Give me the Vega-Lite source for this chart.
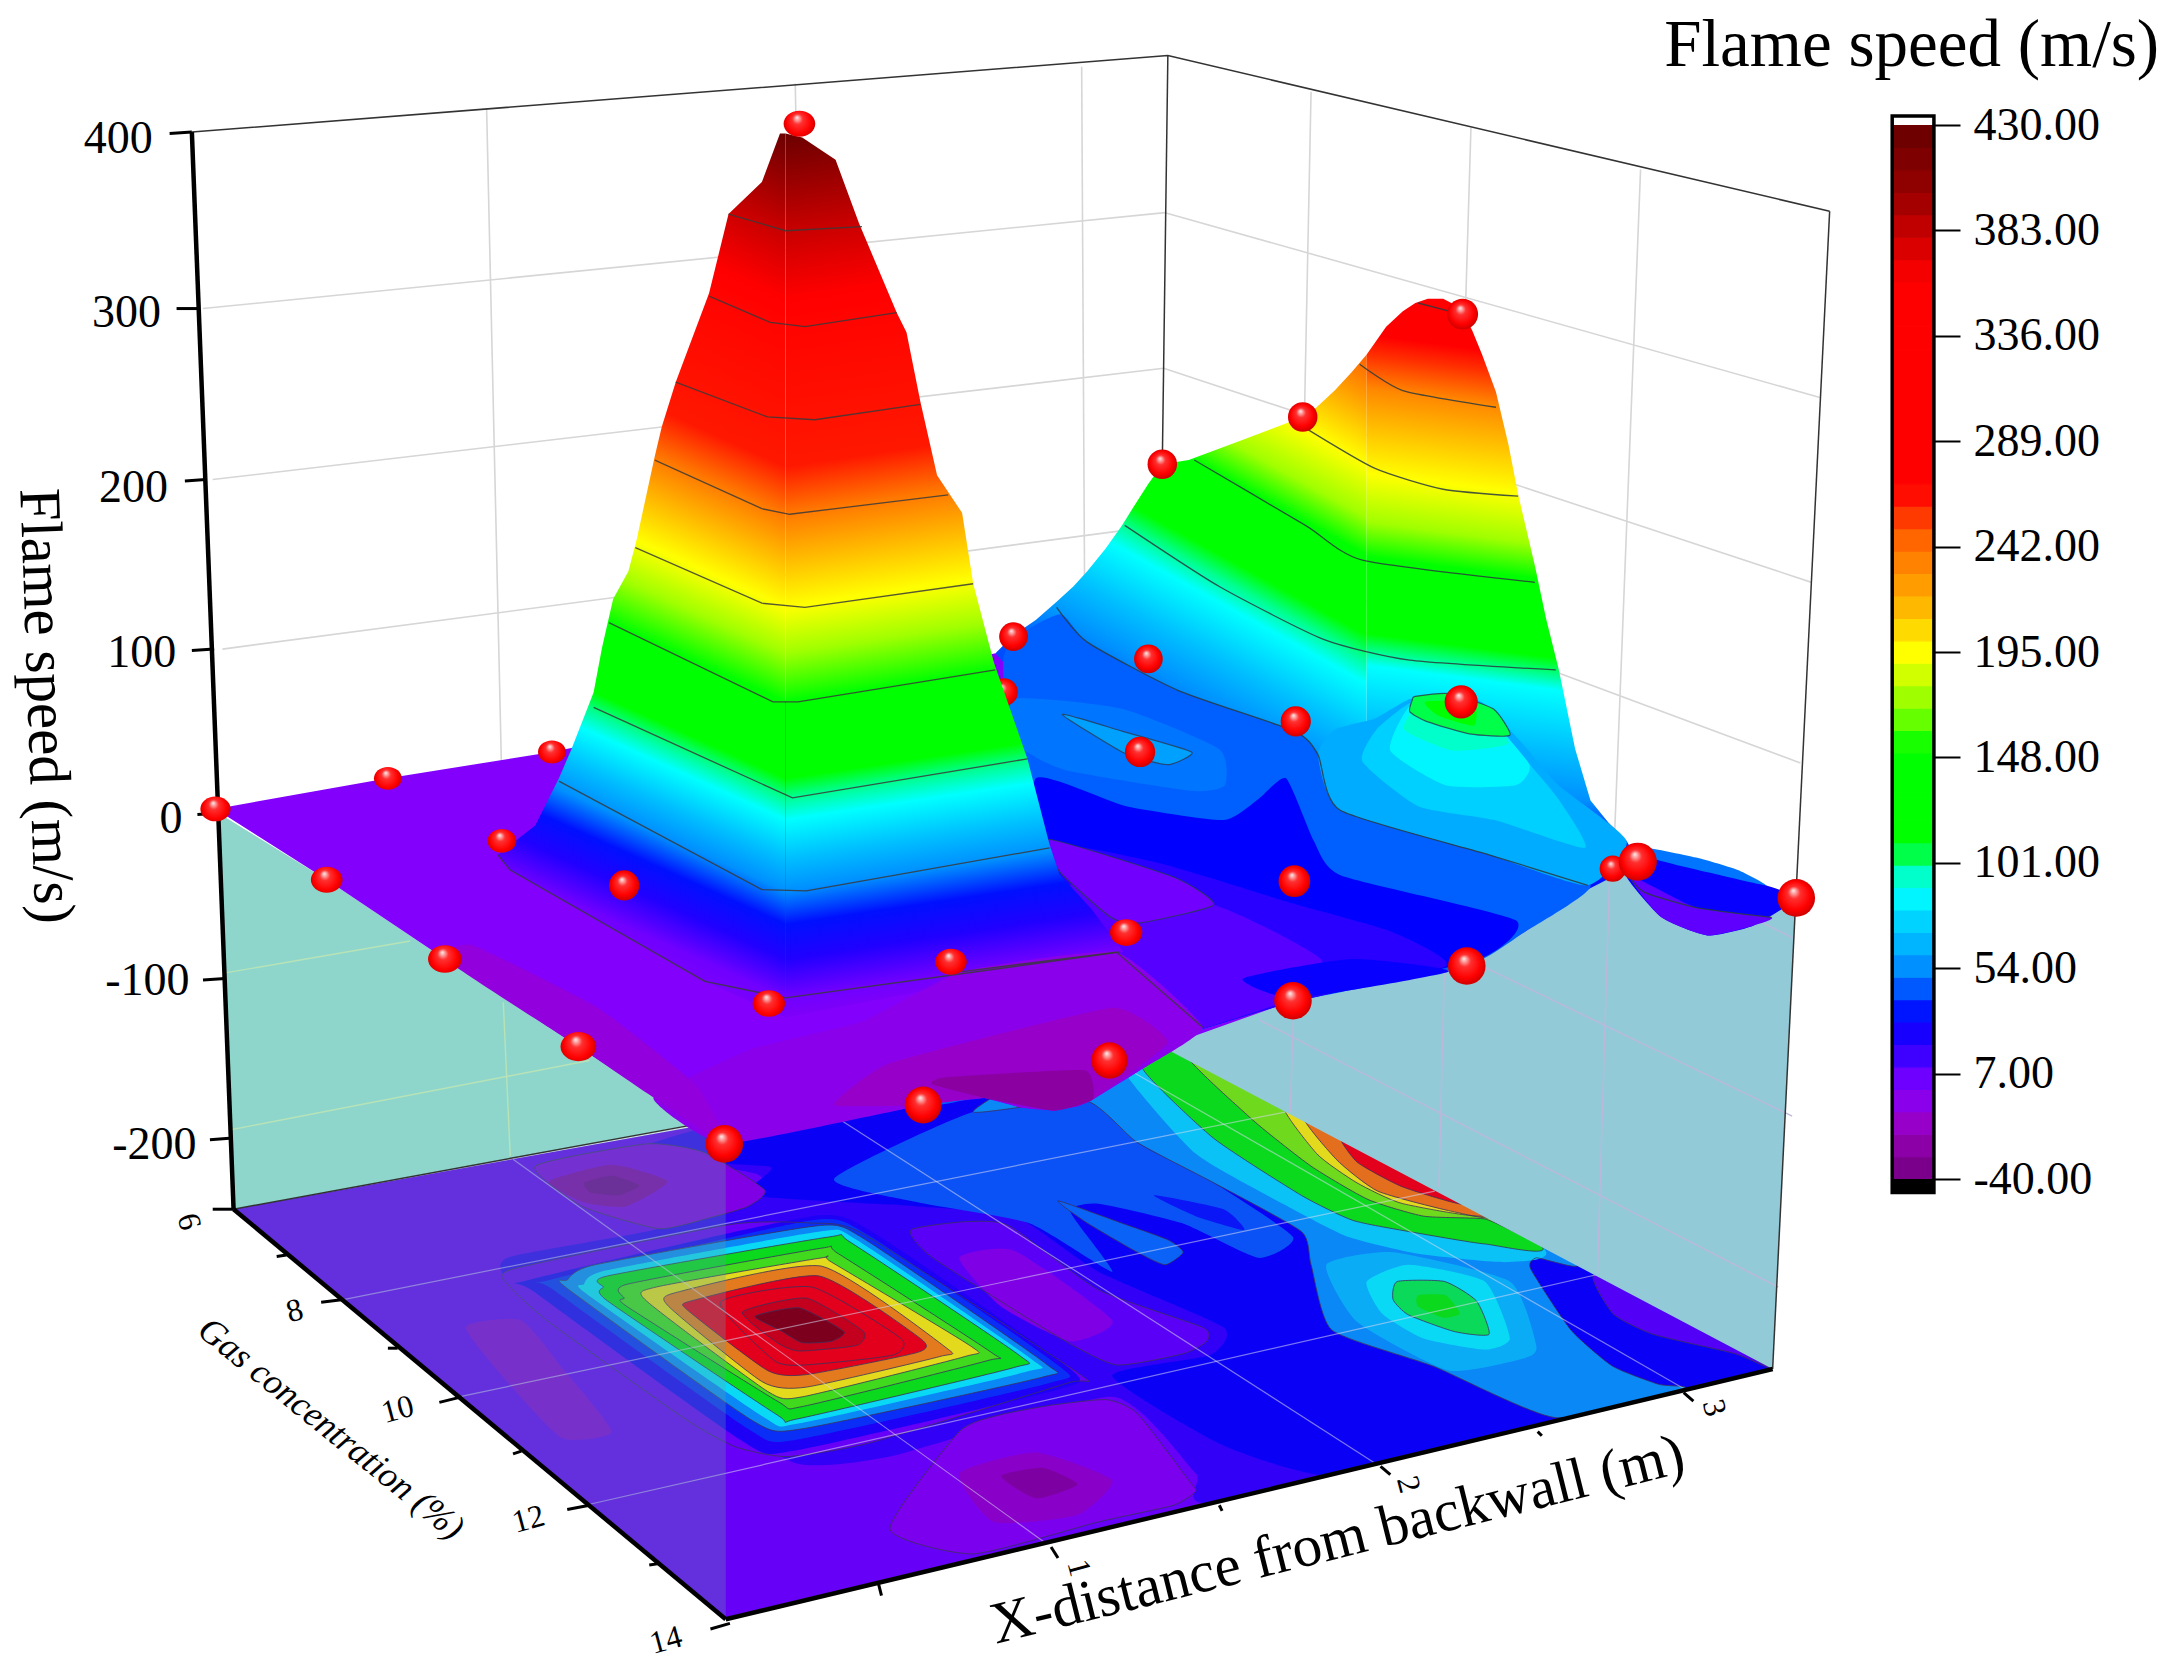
{"$schema":"https://vega.github.io/schema/vega-lite/v6.json","width":2180,"height":1679,"padding":0,"autosize":{"type":"none"},"background":"white","config":{"view":{"stroke":null}},
"resolve":{"scale":{"y":"independent"}},
"datasets":{
"floor":[
{"id":"f1","speed":18,"xs":[470,838,1275,880,860,800,640,570,480,370,365,470,545,545],"ys":[822,750,985,1080,1060,1005,1048,1052,990,925,905,885,860,845]},
{"id":"f2","speed":32,"xs":[510,838,1275,1160,1090,960,880,800,870,880,790,730,660,540,555],"ys":[830,750,985,1012,1030,1062,1040,990,975,955,915,875,868,860,840]},
{"id":"c_p2","speed":8,"xs":[655,694,726,790,865,868,851,803,763,671],"ys":[885,879,882,928,955,965,974,982,963,905]},
{"id":"p2i","speed":-5,"xs":[690,730,800,770,720],"ys":[905,900,950,965,940]},
{"id":"f2b","speed":46,"xs":[600,700,790,818,873,930,905,850,790,770,800,740,660],"ys":[848,800,792,822,851,890,905,880,866,872,915,880,865]},
{"id":"spot","speed":36,"xs":[830,880,895,860],"ys":[860,870,885,875]},
{"id":"c_f3","speed":58,"xs":[700,781,818,873,936,943,958,1031,1119,1211,1193,1160,1130,1101,1105,1127,838,760],"ys":[800,792,822,851,886,910,957,983,1020,999,996,983,957,913,905,905,750,765]},
{"id":"c_w","speed":10,"xs":[1149,1160,1189,1248,1275],"ys":[917,945,960,974,985]},
{"id":"rb0","speed":80,"xs":[805,860,930,970,1020,1085,1105,846],"ys":[765,830,870,890,902,908,894,754]},
{"id":"h1","speed":72,"xs":[954,1002,1086,1105,1097,1042,976],"ys":[910,901,922,968,977,986,951]},
{"id":"h2","speed":88,"xs":[983,1013,1068,1086,1068,1024,994],"ys":[922,910,922,963,971,963,945]},
{"id":"c_h3","speed":105,"xs":[1005,1039,1062,1071,1046,1013,1002],"ys":[922,922,936,960,958,946,935]},
{"id":"h4","speed":125,"xs":[1020,1040,1050,1038,1020],"ys":[932,932,945,948,940]},
{"id":"c_r1","speed":125,"xs":[846,822,873,936,973,1013,1068,1105],"ys":[754,769,819,860,878,886,895,894]},
{"id":"c_r2","speed":168,"xs":[856,899,943,984,1024,1068,1090],"ys":[758,804,839,863,875,877,886]},
{"id":"c_r3","speed":195,"xs":[925,947,976,1009,1068],"ys":[794,830,851,866,873]},
{"id":"c_r4","speed":235,"xs":[939,961,991,1042,1071],"ys":[802,834,857,871,874]},
{"id":"c_r5","speed":320,"xs":[965,976,1009,1053],"ys":[816,836,854,866]},
{"id":"c_pq","speed":50,"xs":[761,804,840,851,838,818,782],"ys":[864,879,892,901,910,901,880]},
{"id":"c_pl","speed":-5,"xs":[385,465,506,550,538,511,474,419],"ys":[839,823,829,856,868,876,884,868]},
{"id":"pl2","speed":-25,"xs":[395,440,480,450,420],"ys":[850,838,850,868,865]},
{"id":"pl3","speed":-35,"xs":[420,440,460,445,425],"ys":[851,846,853,860,858]},
{"id":"pl4","speed":-8,"xs":[335,375,405,440,405,370],"ys":[955,950,985,1030,1035,1000]},
{"id":"c_b","speed":-2,"xs":[690,719,756,796,818,855,860,844,790,700,640],"ys":[1030,1018,1011,1007,1017,1065,1073,1083,1095,1118,1100]},
{"id":"b2","speed":-15,"xs":[690,745,800,775,715],"ys":[1060,1045,1065,1090,1095]},
{"id":"b3","speed":-28,"xs":[720,750,775,745],"ys":[1062,1056,1068,1078]},
{"id":"c_p0","speed":5,"xs":[366,369,525,584,621,777,768,626,566,529,493,396],"ys":[925,913,881,880,888,989,995,1038,1048,1041,1021,952]},
{"id":"p1","speed":25,"xs":[380,584,630,770,760,570,534,385],"ys":[921,875,888,985,1000,1044,1037,930]},
{"id":"p2","speed":40,"xs":[395,584,625,762,755,572,538,398],"ys":[921,878,889,983,995,1036,1028,928]},
{"id":"c_p3","speed":58,"xs":[408,428,587,621,752,749,577,541,408],"ys":[921,910,882,891,981,991,1028,1022,927]},
{"id":"p4","speed":88,"xs":[420,436,590,616,742,738,575,550,422],"ys":[924,914,886,892,978,987,1024,1020,931]},
{"id":"c_p5","speed":110,"xs":[434,437,596,612,733,729,573,559,437],"ys":[926,918,890,894,975,984,1021,1018,936]},
{"id":"c_p6","speed":160,"xs":[449,451,591,603,713,710,577,559,451],"ys":[934,924,898,902,973,979,1012,1008,940]},
{"id":"c_p7","speed":195,"xs":[465,472,591,598,699,694,577,552],"ys":[936,926,905,908,969,976,1005,1001]},
{"id":"c_p8","speed":230,"xs":[481,486,591,681,676,580,548],"ys":[940,930,911,970,976,998,994]},
{"id":"c_p9","speed":268,"xs":[495,497,589,662,660,580,552],"ys":[943,936,918,963,973,989,986]},
{"id":"c_p10","speed":330,"xs":[518,584,648,642,580,557],"ys":[937,926,963,975,982,979]},
{"id":"c_p11","speed":375,"xs":[534,580,621,616,575,559],"ys":[944,934,958,968,972,966]},
{"id":"c_p12","speed":410,"xs":[543,575,607,598,577,561],"ys":[947,941,958,965,966,957]}
],
"mid":[
{"id":"m1","speed":46,"xs":[722,762,782,848,931,948,964,1071,1144,1096,1055,930,848,798,664,700,730],"ys":[472,442,462,497,526,543,583,615,637,671,695,721,746,763,795,700,600]},
{"id":"m2","speed":50,"xs":[729,807,877,881,857,766,733],"ys":[503,510,539,565,569,554,536]},
{"id":"c_m3","speed":58,"xs":[764,807,857,842,828,807],"ys":[514,526,541,550,548,541]},
{"id":"m4","speed":32,"xs":[745,810,880,905,925,945,965,1090,1064,930,850,798,780,750],"ys":[560,580,590,575,560,605,630,662,690,721,745,763,710,640]},
{"id":"m5","speed":20,"xs":[750,830,930,1000,1040,930,850,798,765],"ys":[610,620,650,670,695,721,745,763,700]},
{"id":"m6","speed":10,"xs":[755,870,950,930,850,798],"ys":[640,650,690,718,745,763]},
{"id":"c_m7","speed":4,"xs":[755,844,873,820,799,762],"ys":[604,631,651,664,660,627]},
{"id":"m8","speed":30,"xs":[894,972,1042,931],"ys":[704,690,699,718]},
{"id":"b1","speed":62,"xs":[948,964,1071,1142,1170,1121,1096,1067,1042,1014,989,960],"ys":[543,583,615,637,605,565,536,506,499,503,517,525]},
{"id":"b2","speed":74,"xs":[980,1020,1075,1140,1121,1096,1067,1042,1014,990],"ys":[548,580,590,610,575,545,510,502,506,525]},
{"id":"b3","speed":85,"xs":[1000,1040,1090,1100,1067,1042,1014],"ys":[540,565,565,550,512,504,508]},
{"id":"b4","speed":95,"xs":[1010,1045,1085,1067,1042,1020],"ys":[525,540,535,513,505,507]},
{"id":"c_b5","speed":105,"xs":[1016,1018,1042,1074,1086,1057,1026,1014],"ys":[503,501,499,510,529,528,519,512]},
{"id":"b6","speed":125,"xs":[1025,1060,1060,1035],"ys":[505,505,522,515]},
{"id":"v1","speed":30,"xs":[1179,1220,1270,1292,1261,1228,1195,1170,1179],"ys":[609,620,637,646,666,673,660,631,621]},
{"id":"v2","speed":8,"xs":[1172,1220,1274,1261,1228,1195],"ys":[630,653,660,666,673,660]},
{"id":"v3","speed":50,"xs":[1179,1220,1250,1270,1230,1190],"ys":[609,617,626,637,628,618]}
],
"front":[
{"id":"s1","speed":-5,"xs":[620,692,803,865,820,786,775,758,735,708,664,521,470,540],"ys":[735,699,685,739,770,791,796,799,797,790,795,823,790,755]},
{"id":"l1","speed":-9,"xs":[320,416,521,500,430,340],"ys":[690,753,823,780,725,680]},
{"id":"s2","speed":-15,"xs":[640,800,840,786,758,708,664,600],"ys":[765,725,750,791,799,790,795,795]},
{"id":"s3","speed":-27,"xs":[680,780,786,758,708,670],"ys":[775,770,791,799,790,780]}
],
"peakLines":[
{"id":"c1","xs":[524,565,620],"ys":[154,166,163]},
{"id":"c2","xs":[510,554,579,645],"ys":[213,232,235,225]},
{"id":"c3","xs":[486,552,586,662],"ys":[275,300,302,291]},
{"id":"c4","xs":[471,548,568,682],"ys":[331,366,370,356]},
{"id":"c5","xs":[457,548,579,700],"ys":[394,434,437,420]},
{"id":"c6","xs":[438,556,574,716],"ys":[448,505,505,482]},
{"id":"c7","xs":[427,570,739],"ys":[509,574,546]},
{"id":"c8","xs":[402,548,580,755],"ys":[562,640,641,610]},
{"id":"c9","xs":[358,367,507,565,805],"ys":[615,626,706,718,685]},
{"id":"c10","xs":[692,803,865],"ys":[699,685,739]}
],
"ridgeLines":[
{"id":"r0","xs":[1020,1043],"ys":[218,224]},
{"id":"r1","xs":[978,1009,1076],"ys":[262,281,293]},
{"id":"r2","xs":[939,989,1038,1092],"ys":[308,337,352,357]},
{"id":"r3","xs":[859,939,980,1104],"ys":[331,378,403,419]},
{"id":"r4","xs":[809,877,952,1014,1119],"ys":[378,422,460,475,482]},
{"id":"r5","xs":[760,782,848,931,948,964,1071,1142],"ys":[437,462,497,526,543,583,615,637]},
{"id":"r6","xs":[1172,1183,1220,1274],"ys":[631,642,653,660]}
],
"spheres":[
{"X":0,"conc":6,"speed":0,"depth":0.35,"form":"flat","xs":155,"ys":582},{"X":0.5,"conc":6,"speed":0,"depth":0.2,"form":"flat","xs":279,"ys":560},{"X":1,"conc":6,"speed":0,"depth":0.2,"form":"flat","xs":397,"ys":541},{"X":2.5,"conc":6,"speed":60,"depth":0.25,"form":"round","xs":729,"ys":458},{"X":3,"conc":6,"speed":205,"depth":0.3,"form":"round","xs":836,"ys":334},
{"X":0,"conc":8,"speed":0,"depth":0.45,"form":"flat","xs":235,"ys":633},{"X":0.5,"conc":8,"speed":0,"depth":0.25,"form":"flat","xs":361,"ys":605},{"X":2.5,"conc":8,"speed":75,"depth":0.25,"form":"round","xs":826,"ys":474},{"X":3,"conc":8,"speed":235,"depth":0.3,"form":"round","xs":937,"ys":300},
{"X":0,"conc":10,"speed":0,"depth":0.6,"form":"flat","xs":320,"ys":690},{"X":0.5,"conc":10,"speed":5,"depth":0.35,"form":"round","xs":449,"ys":637},{"X":1,"conc":10,"speed":405,"depth":0.45,"form":"flat","xs":575,"ys":89},{"X":2,"conc":10,"speed":50,"depth":0.35,"form":"round","xs":820,"ys":541},{"X":2.5,"conc":10,"speed":60,"depth":0.35,"form":"round","xs":932,"ys":519},{"X":3,"conc":10,"speed":300,"depth":0.4,"form":"round","xs":1052,"ys":226},
{"X":0,"conc":12,"speed":-15,"depth":0.75,"form":"flat","xs":416,"ys":753},{"X":0.5,"conc":12,"speed":5,"depth":0.5,"form":"flat","xs":553,"ys":722},{"X":1,"conc":12,"speed":10,"depth":0.45,"form":"flat","xs":684,"ys":692},{"X":1.5,"conc":12,"speed":15,"depth":0.5,"form":"flat","xs":810,"ys":671},{"X":2,"conc":12,"speed":20,"depth":0.45,"form":"round","xs":931,"ys":634},{"X":2.5,"conc":12,"speed":115,"depth":0.55,"form":"round","xs":1051,"ys":505},
{"X":0,"conc":14,"speed":-20,"depth":0.9,"form":"round","xs":521,"ys":823},{"X":0.5,"conc":14,"speed":-25,"depth":0.85,"form":"round","xs":664,"ys":795},{"X":1,"conc":14,"speed":-30,"depth":0.8,"form":"round","xs":798,"ys":763},{"X":1.5,"conc":14,"speed":-15,"depth":0.9,"form":"round","xs":930,"ys":720},{"X":2,"conc":14,"speed":-20,"depth":0.9,"form":"round","xs":1055,"ys":695},{"X":2.5,"conc":14,"speed":-10,"depth":0.95,"form":"round","xs":1178,"ys":620},{"X":3,"conc":14,"speed":-35,"depth":0.9,"form":"round","xs":1292,"ys":646}
],
"spheresBack":[
{"X":2,"conc":8,"speed":40,"depth":0.2,"form":"round","xs":722,"ys":498},{"X":3,"conc":12,"speed":-20,"depth":0.1,"form":"round","xs":1160,"ys":625}
],
"bar":[{"lo":-40,"hi":-30,"speed":-35},{"lo":-30,"hi":-20,"speed":-25},{"lo":-20,"hi":-10,"speed":-15},{"lo":-10,"hi":0,"speed":-5},{"lo":0,"hi":10,"speed":5},{"lo":10,"hi":20,"speed":15},{"lo":20,"hi":30,"speed":25},{"lo":30,"hi":40,"speed":35},{"lo":40,"hi":50,"speed":45},{"lo":50,"hi":60,"speed":55},{"lo":60,"hi":70,"speed":65},{"lo":70,"hi":80,"speed":75},{"lo":80,"hi":90,"speed":85},{"lo":90,"hi":100,"speed":95},{"lo":100,"hi":110,"speed":105},{"lo":110,"hi":120,"speed":115},{"lo":120,"hi":130,"speed":125},{"lo":130,"hi":140,"speed":135},{"lo":140,"hi":150,"speed":145},{"lo":150,"hi":160,"speed":155},{"lo":160,"hi":170,"speed":165},{"lo":170,"hi":180,"speed":175},{"lo":180,"hi":190,"speed":185},{"lo":190,"hi":200,"speed":195},{"lo":200,"hi":210,"speed":205},{"lo":210,"hi":220,"speed":215},{"lo":220,"hi":230,"speed":225},{"lo":230,"hi":240,"speed":235},{"lo":240,"hi":250,"speed":245},{"lo":250,"hi":260,"speed":255},{"lo":260,"hi":270,"speed":265},{"lo":270,"hi":280,"speed":275},{"lo":280,"hi":290,"speed":285},{"lo":290,"hi":300,"speed":295},{"lo":300,"hi":310,"speed":305},{"lo":310,"hi":320,"speed":315},{"lo":320,"hi":330,"speed":325},{"lo":330,"hi":340,"speed":335},{"lo":340,"hi":350,"speed":345},{"lo":350,"hi":360,"speed":355},{"lo":360,"hi":370,"speed":365},{"lo":370,"hi":380,"speed":375},{"lo":380,"hi":390,"speed":385},{"lo":390,"hi":400,"speed":395},{"lo":400,"hi":410,"speed":405},{"lo":410,"hi":420,"speed":415},{"lo":420,"hi":430,"speed":425}]
},
"layer":[
{"encoding":{
"x":{"field":"xs","type":"quantitative","scale":{"domain":[0,1568],"nice":false,"zero":false},"axis":null},
"y":{"field":"ys","type":"quantitative","scale":{"domain":[1208,0],"nice":false,"zero":false},"axis":null},
"detail":{"field":"id"},"order":{"value":null}},
"layer":[
{"data":{"values":[{"id":"z300L","xs":[146,838],"ys":[222,153]},{"id":"z200L","xs":[153,837],"ys":[345,265]},{"id":"z100L","xs":[160,836],"ys":[467,378]},{"id":"z300R","xs":[838,1309],"ys":[153,286]},{"id":"z200R","xs":[837,1303],"ys":[265,419]},{"id":"z100R","xs":[836,1295],"ys":[378,549]},{"id":"z0R","xs":[835,1290],"ys":[490,675]},{"id":"v1","xs":[350,367],"ys":[78,832]},{"id":"v2","xs":[572,586],"ys":[60,800]},{"id":"v3","xs":[778,782],"ys":[48,760]},{"id":"v4","xs":[943,928],"ys":[66,800]},{"id":"v5","xs":[1058,1035],"ys":[92,854]},{"id":"v6","xs":[1180,1149],"ys":[122,916]}]},"transform":[{"flatten":["xs","ys"]}],"mark":{"type":"line","stroke":"#D6D6D6","strokeWidth":1.6}},
{"data":{"values":[{"id":"base","speed":5,"xs":[168,838,1275,522],"ys":[870,750,985,1165]}]},"transform":[{"flatten":["xs","ys"]}],"mark":{"type":"line","stroke":null,"strokeOpacity":0},"encoding":{"fill":{"field":"speed","type":"quantitative","legend":null,"scale":{"interpolate":"rgb","domain":[-40,-27,-13,1,18,32,46,58,74,88,103,107,152,164,178,195,212,230,247,257,268,361,382,399,427,430],"range":["#700080","#8A00A0","#9800D0","#8000FF","#3000FF","#0000FF","#0060FF","#00A0FF","#00D0FF","#00FFFF","#00FF90","#00FF00","#00FF00","#60FF00","#B0FF00","#FFFF00","#FFC000","#FF9000","#FF6000","#FF3000","#FF0000","#FF0000","#C80000","#990000","#6B0000","#6B0000"]}}}},
{"data":{"name":"floor"},"transform":[{"flatten":["xs","ys"]}],"mark":{"type":"line","stroke":null,"strokeOpacity":0,"interpolate":"cardinal-closed","tension":0.45},"encoding":{"fill":{"field":"speed","type":"quantitative","legend":null}}},
{"data":{"name":"floor"},"transform":[{"filter":"test(/^c_/,datum.id)"},{"flatten":["xs","ys"]}],"mark":{"type":"line","stroke":"#3A3A4A","strokeWidth":1,"strokeOpacity":0.8,"interpolate":"cardinal-closed","tension":0.45}},
{"data":{"values":[{"id":"ov","xs":[168,838,1275,522],"ys":[870,750,985,1165]}]},"transform":[{"flatten":["xs","ys"]}],"mark":{"type":"line","fill":"#4000C0","fillOpacity":0.15,"stroke":null,"strokeOpacity":0}},
{"data":{"values":[{"id":"x1","xs":[756,369],"ys":[1113,834]},{"id":"x2","xs":[991,580],"ys":[1054,790]},{"id":"x3","xs":[1211,790],"ys":[999,757]},{"id":"c8","xs":[247,925],"ys":[935,800]},{"id":"c10","xs":[330,1032],"ys":[1005,857]},{"id":"c12","xs":[421,1149],"ys":[1083,917]}]},"transform":[{"flatten":["xs","ys"]}],"mark":{"type":"line","stroke":"#D8D8F0","strokeWidth":1.2,"strokeOpacity":0.55}},
{"data":{"values":[{"id":"tint","xs":[168,522,522],"ys":[870,805,1165]}]},"transform":[{"flatten":["xs","ys"]}],"mark":{"type":"line","fill":"#5FA0A5","fillOpacity":0.3,"stroke":null,"strokeOpacity":0}},
{"data":{"values":[{"id":"mask","xs":[168,522,1275,1300,1300,100,100],"ys":[870,1165,985,985,1208,1208,870]}]},"transform":[{"flatten":["xs","ys"]}],"mark":{"type":"line","fill":"#FFFFFF","stroke":null,"strokeOpacity":0}},
{"data":{"values":[{"id":"tl","xs":[157,235,320,416,521,521,168],"ys":[585,633,690,753,823,805,870]}]},"transform":[{"flatten":["xs","ys"]}],"mark":{"type":"line","fill":"#8ED6CC","stroke":null,"strokeOpacity":0}},
{"data":{"values":[{"id":"tr","xs":[830,1275,1290,1292,1270,1220,1179,1100,900,830],"ys":[750,985,680,646,637,620,621,660,720,745]}]},"transform":[{"flatten":["xs","ys"]}],"mark":{"type":"line","fill":"#93CAD8","stroke":null,"strokeOpacity":0}},
{"data":{"values":[{"id":"g1","xs":[162,295],"ys":[700,677]},{"id":"g2","xs":[165,424],"ys":[813,763]},{"id":"g3","xs":[362,367],"ys":[721,832]}]},"transform":[{"flatten":["xs","ys"]}],"mark":{"type":"line","stroke":"#B7E3B7","strokeWidth":1.4}},
{"data":{"values":[{"id":"h1","xs":[1000,1289],"ys":[663,803]},{"id":"h2","xs":[906,1279],"ys":[734,926]},{"id":"h3","xs":[1160,1290],"ys":[610,675]},{"id":"w1","xs":[932,928],"ys":[680,800]},{"id":"w2","xs":[1040,1035],"ys":[650,854]},{"id":"w3","xs":[1158,1149],"ys":[620,916]}]},"transform":[{"flatten":["xs","ys"]}],"mark":{"type":"line","stroke":"#BBB8DC","strokeWidth":1.4}},
{"data":{"values":[{"id":"top","xs":[138,840,1316],"ys":[95,40,152]},{"id":"back","xs":[840,836],"ys":[40,334]},{"id":"right","xs":[1316,1275],"ys":[152,985]},{"id":"ad","xs":[168,522],"ys":[870,805]}]},"transform":[{"flatten":["xs","ys"]}],"mark":{"type":"line","stroke":"#333333","strokeWidth":1.5}},
{"data":{"values":[{"id":"surf","speed":0,"xs":[155,279,397,450,716,900,1144,1096,1055,930,860,820,786,775,758,735,708,664,521,416,320,235],"ys":[582,560,541,530,470,600,637,671,695,720,745,770,791,796,799,797,790,795,823,753,690,633]}]},"transform":[{"flatten":["xs","ys"]}],"mark":{"type":"line","stroke":null,"strokeOpacity":0},"encoding":{"fill":{"field":"speed","type":"quantitative","legend":null}}},
{"data":{"values":[{"id":"ra","xs":[716,729,745,760,772,782,795,807,817,826,836,855,895,937,947,960,972,983,983,900,760],"ys":[470,457,446,433,422,411,395,378,362,348,334,331,316,300,293,281,268,255,600,600,520]}]},"transform":[{"flatten":["xs","ys"]}],"mark":{"type":"line","stroke":null,"strokeOpacity":0,"fill":{"gradient":"linear","x1":1,"y1":0,"x2":0.574,"y2":1,"stops":[{"offset":0,"color":"#FF6000"},{"offset":0.064,"color":"#FF9000"},{"offset":0.194,"color":"#FFFF00"},{"offset":0.287,"color":"#A0FF00"},{"offset":0.355,"color":"#00FF00"},{"offset":0.495,"color":"#00FF00"},{"offset":0.537,"color":"#00FF90"},{"offset":0.581,"color":"#00FFFF"},{"offset":0.679,"color":"#00C0FF"},{"offset":0.765,"color":"#0090FF"},{"offset":0.85,"color":"#0050FF"},{"offset":1,"color":"#0040FF"}]}}},
{"data":{"values":[{"id":"rb","xs":[983,997,1009,1018,1027,1038,1046,1053,1059,1066,1076,1085,1092,1104,1112,1121,1133,1144,1157,1170,1179,1142,1071,983],"ys":[255,235,224,218,215,215,219,226,238,255,282,320,356,407,445,481,539,576,592,605,621,640,620,600]}]},"transform":[{"flatten":["xs","ys"]}],"mark":{"type":"line","stroke":null,"strokeOpacity":0,"fill":{"gradient":"linear","x1":1,"y1":0,"x2":0.94,"y2":1,"stops":[{"offset":0,"color":"#FF0000"},{"offset":0.12,"color":"#FF0000"},{"offset":0.155,"color":"#FF3000"},{"offset":0.211,"color":"#FF8800"},{"offset":0.354,"color":"#FFFF00"},{"offset":0.436,"color":"#A0FF00"},{"offset":0.495,"color":"#00FF00"},{"offset":0.624,"color":"#00FF00"},{"offset":0.654,"color":"#00FF90"},{"offset":0.678,"color":"#00FFFF"},{"offset":0.776,"color":"#00C0FF"},{"offset":0.858,"color":"#0090FF"},{"offset":0.917,"color":"#0030FF"},{"offset":1,"color":"#0010FF"}]}}},
{"data":{"name":"mid"},"transform":[{"flatten":["xs","ys"]}],"mark":{"type":"line","stroke":null,"strokeOpacity":0,"interpolate":"cardinal-closed","tension":0.45},"encoding":{"fill":{"field":"speed","type":"quantitative","legend":null}}},
{"data":{"name":"mid"},"transform":[{"filter":"test(/^c_/,datum.id)"},{"flatten":["xs","ys"]}],"mark":{"type":"line","stroke":"#2A3A50","strokeWidth":1.2,"strokeOpacity":0.8,"interpolate":"cardinal-closed","tension":0.45}},
{"data":{"name":"ridgeLines"},"transform":[{"flatten":["xs","ys"]}],"mark":{"type":"line","stroke":"#2A3A40","strokeWidth":1.3,"strokeOpacity":0.85,"interpolate":"cardinal","tension":0.4}},
{"data":{"name":"spheresBack"},"mark":{"type":"point","filled":true,"opacity":1,"fill":{"gradient":"radial","x1":0.42,"y1":0.3,"r1":0,"x2":0.5,"y2":0.5,"r2":0.55,"stops":[{"offset":0,"color":"#FFF0F0"},{"offset":0.3,"color":"#FF3030"},{"offset":0.7,"color":"#FF0000"},{"offset":1,"color":"#C00000"}]}},"encoding":{"size":{"field":"depth","type":"quantitative","legend":null,"scale":{"domain":[0,1],"range":[600,1500]}},"shape":{"field":"form","type":"nominal","legend":null,"scale":{"domain":["flat","round"],"range":["M-1,0A1,0.82 0 1,1 1,0A1,0.82 0 1,1 -1,0Z","circle"]}}}},
{"data":{"values":[{"id":"pl","xs":[565,561,548,524,510,486,476,471,458,452,441,433,427,411,402,385,358,367,507,565],"ys":[96,96,131,154,211,275,307,328,388,411,431,466,498,539,560,594,615,626,706,732]}]},"transform":[{"flatten":["xs","ys"]}],"mark":{"type":"line","stroke":null,"strokeOpacity":0,"fill":{"gradient":"linear","x1":1,"y1":0,"x2":0.8535,"y2":1,"stops":[{"offset":0,"color":"#6B0000"},{"offset":0.108,"color":"#C80000"},{"offset":0.183,"color":"#FF0000"},{"offset":0.369,"color":"#FF1800"},{"offset":0.422,"color":"#FF7800"},{"offset":0.525,"color":"#FFFF00"},{"offset":0.576,"color":"#A0FF00"},{"offset":0.63,"color":"#00FF00"},{"offset":0.714,"color":"#00FF00"},{"offset":0.736,"color":"#00FF90"},{"offset":0.76,"color":"#00FFFF"},{"offset":0.802,"color":"#00C0FF"},{"offset":0.839,"color":"#0090FF"},{"offset":0.876,"color":"#0010FF"},{"offset":0.914,"color":"#2000FF"},{"offset":0.958,"color":"#7000FF"},{"offset":1,"color":"#8000F8"}]}}},
{"data":{"values":[{"id":"pr","xs":[565,577,601,618,645,652,662,674,692,700,715,739,755,762,785,808,565],"ys":[96,99,115,161,225,239,289,342,369,420,477,546,608,629,654,685,732]}]},"transform":[{"flatten":["xs","ys"]}],"mark":{"type":"line","stroke":null,"strokeOpacity":0,"fill":{"gradient":"linear","x1":0,"y1":0,"x2":0.057,"y2":1,"stops":[{"offset":0,"color":"#6B0000"},{"offset":0.11,"color":"#C80000"},{"offset":0.187,"color":"#FF0000"},{"offset":0.376,"color":"#FF1800"},{"offset":0.429,"color":"#FF7800"},{"offset":0.534,"color":"#FFFF00"},{"offset":0.586,"color":"#A0FF00"},{"offset":0.641,"color":"#00FF00"},{"offset":0.727,"color":"#00FF00"},{"offset":0.749,"color":"#00FF90"},{"offset":0.774,"color":"#00FFFF"},{"offset":0.817,"color":"#00C0FF"},{"offset":0.854,"color":"#0090FF"},{"offset":0.892,"color":"#0010FF"},{"offset":0.931,"color":"#2000FF"},{"offset":0.975,"color":"#7000FF"},{"offset":1,"color":"#8000F8"}]}}},
{"data":{"name":"front"},"transform":[{"flatten":["xs","ys"]}],"mark":{"type":"line","stroke":null,"strokeOpacity":0,"interpolate":"cardinal-closed","tension":0.6},"encoding":{"fill":{"field":"speed","type":"quantitative","legend":null}}},
{"data":{"name":"peakLines"},"transform":[{"flatten":["xs","ys"]}],"mark":{"type":"line","stroke":"#3A3A3A","strokeWidth":1.3,"strokeOpacity":0.85}},
{"data":{"values":[{"id":"zaxis","xs":[138,168],"ys":[95,870]},{"id":"ab","xs":[168,522],"ys":[870,1165]},{"id":"bc","xs":[522,1275],"ys":[1165,985]}]},"transform":[{"flatten":["xs","ys"]}],"mark":{"type":"line","stroke":"#000000","strokeWidth":4.5}},
{"data":{"values":[{"id":"z400","xs":[122,138],"ys":[96,95]},{"id":"z300","xs":[127,143],"ys":[222,222]},{"id":"z200","xs":[133,148],"ys":[346,345]},{"id":"z100","xs":[138,154],"ys":[468,467]},{"id":"z0","xs":[142,158],"ys":[586,585]},{"id":"zm100","xs":[146,162],"ys":[705,704]},{"id":"zm200","xs":[151,165],"ys":[820,819]},{"id":"zb","xs":[153,168],"ys":[870,870]},{"id":"c7","xs":[199,206],"ys":[904,903]},{"id":"c8t","xs":[231,247],"ys":[937,935]},{"id":"c9","xs":[279,286],"ys":[970,970]},{"id":"c10t","xs":[316,332],"ys":[1009,1005]},{"id":"c11","xs":[369,375],"ys":[1046,1044]},{"id":"c12t","xs":[408,424],"ys":[1086,1083]},{"id":"c13","xs":[467,474],"ys":[1126,1125]},{"id":"c14","xs":[511,525],"ys":[1172,1168]},{"id":"x05","xs":[632,634],"ys":[1140,1148]},{"id":"x1t","xs":[756,761],"ys":[1113,1121]},{"id":"x15","xs":[877,879],"ys":[1083,1087]},{"id":"x2t","xs":[993,1000],"ys":[1055,1061]},{"id":"x25","xs":[1106,1109],"ys":[1030,1033]},{"id":"x3t","xs":[1211,1218],"ys":[1002,1008]}]},"transform":[{"flatten":["xs","ys"]}],"mark":{"type":"line","stroke":"#000000","strokeWidth":3}},
{"data":{"name":"spheres"},"mark":{"type":"point","filled":true,"opacity":1,"fill":{"gradient":"radial","x1":0.42,"y1":0.3,"r1":0,"x2":0.5,"y2":0.5,"r2":0.55,"stops":[{"offset":0,"color":"#FFF0F0"},{"offset":0.3,"color":"#FF3030"},{"offset":0.7,"color":"#FF0000"},{"offset":1,"color":"#C00000"}]}},"encoding":{"size":{"field":"depth","type":"quantitative","legend":null},"shape":{"field":"form","type":"nominal","legend":null}}},
{"data":{"values":[{"t":"400","xs":85,"ys":100},{"t":"300","xs":91,"ys":225},{"t":"200","xs":96,"ys":351},{"t":"100","xs":102,"ys":470},{"t":"0","xs":123,"ys":589},{"t":"-100","xs":106,"ys":706},{"t":"-200","xs":111,"ys":824}]},"mark":{"type":"text","font":"Liberation Serif","fontSize":46,"align":"center","baseline":"middle","color":"#000000"},"encoding":{"text":{"field":"t"}}},
{"data":{"values":[{"t":"8","xs":212,"ys":943},{"t":"10","xs":286,"ys":1014},{"t":"12","xs":380,"ys":1093},{"t":"14","xs":479,"ys":1180}]},"mark":{"type":"text","font":"Liberation Serif","fontSize":32,"align":"center","baseline":"middle","angle":345,"color":"#000000"},"encoding":{"text":{"field":"t"}}},
{"data":{"values":[{"t":"6","xs":136,"ys":879},{"t":"1","xs":776,"ys":1128},{"t":"2","xs":1013,"ys":1068},{"t":"3","xs":1233,"ys":1013}]},"mark":{"type":"text","font":"Liberation Serif","fontSize":32,"align":"center","baseline":"middle","angle":75,"color":"#000000"},"encoding":{"text":{"field":"t"}}},
{"data":{"values":[{"t":"Flame speed (m/s)","xs":1375,"ys":33}]},"mark":{"type":"text","font":"Liberation Serif","fontSize":67,"align":"center","baseline":"middle","color":"#000000"},"encoding":{"text":{"field":"t"}}},
{"data":{"values":[{"t":"Flame speed (m/s)","xs":33,"ys":508}]},"mark":{"type":"text","font":"Liberation Serif","fontSize":59,"align":"center","baseline":"middle","angle":88,"color":"#000000"},"encoding":{"text":{"field":"t"}}},
{"data":{"values":[{"t":"Gas concentration (%)","xs":238,"ys":1028}]},"mark":{"type":"text","font":"Liberation Serif","fontSize":36,"fontStyle":"italic","align":"center","baseline":"middle","angle":39,"color":"#000000"},"encoding":{"text":{"field":"t"}}},
{"data":{"values":[{"t":"X-distance from backwall (m)","xs":962,"ys":1108}]},"mark":{"type":"text","font":"Liberation Serif","fontSize":59,"align":"center","baseline":"middle","angle":346,"color":"#000000"},"encoding":{"text":{"field":"t"}}}
]},
{"encoding":{
"x":{"datum":1361,"type":"quantitative"},"x2":{"datum":1391},
"y":{"field":"lo","type":"quantitative","scale":{"domain":[-40,430],"range":[1179,125],"nice":false,"zero":false},"axis":{"orient":"right","offset":-246,"values":[430,383,336,289,242,195,148,101,54,7,-40],"format":".2f","labelExpr":"replace(format(datum.value,'.2f'),'−','-')","domain":false,"grid":false,"title":null,"ticks":true,"tickSize":26,"tickWidth":2,"tickColor":"#000000","labelFont":"Liberation Serif","labelFontSize":46,"labelColor":"#000000","labelPadding":13,"labelAlign":"left","labelBaseline":"middle","labelOverlap":false,"labelBound":false,"labelFlush":false}},
"y2":{"field":"hi"}},
"layer":[
{"data":{"name":"bar"},"mark":{"type":"rect","strokeWidth":1.2},"encoding":{"fill":{"field":"speed","type":"quantitative","legend":null},"stroke":{"field":"speed","type":"quantitative","legend":null,"scale":{"interpolate":"rgb","domain":[-40,-27,-13,1,18,32,46,58,74,88,103,107,152,164,178,195,212,230,247,257,268,361,382,399,427,430],"range":["#700080","#8A00A0","#9800D0","#8000FF","#3000FF","#0000FF","#0060FF","#00A0FF","#00D0FF","#00FFFF","#00FF90","#00FF00","#00FF00","#60FF00","#B0FF00","#FFFF00","#FFC000","#FF9000","#FF6000","#FF3000","#FF0000","#FF0000","#C80000","#990000","#6B0000","#6B0000"]}}}},
{"data":{"values":[{"lo":-46,"hi":-40}]},"mark":{"type":"rect","fill":"#000000"}},
{"data":{"values":[{"lo":430,"hi":434}]},"mark":{"type":"rect","fill":"#FFFFFF"}},
{"data":{"values":[{"lo":-46,"hi":434}]},"mark":{"type":"rect","fill":null,"stroke":"#000000","strokeWidth":3.5}}
]}
]}
